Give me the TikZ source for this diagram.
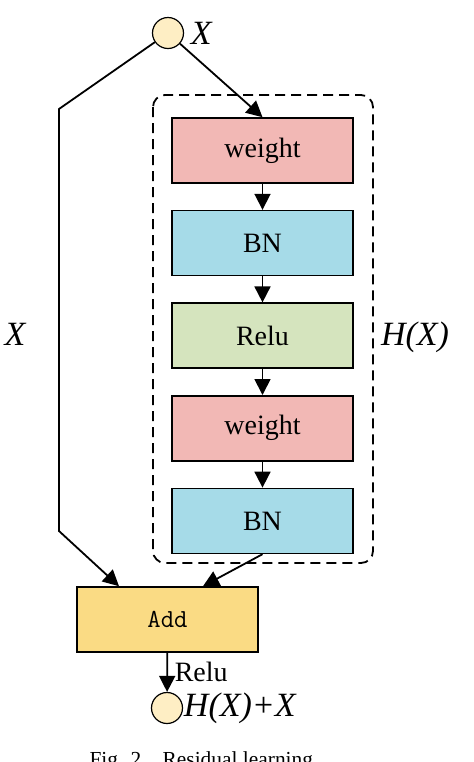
\documentclass[tikz,border=0pt]{standalone}
\usepackage{fontspec}
\setmainfont{Liberation Serif}
\usetikzlibrary{arrows.meta,calc,positioning}
\definecolor{SoftPink}{RGB}{242,184,181}
\definecolor{SoftBlue}{RGB}{166,219,232}
\definecolor{SoftGreen}{RGB}{213,228,190}
\definecolor{SoftGold}{RGB}{250,219,132}
\definecolor{SoftCream}{RGB}{254,238,196}

\begin{document}
\begin{tikzpicture}[x=0.5pt,y=-0.5pt,>={Triangle[length=8pt,width=8pt]},line width=0.9pt,node distance=13pt,
  layer/.style={draw,line width=0.8pt,minimum width=90.5pt,minimum height=32.5pt,inner sep=0pt,font=\fontsize{14}{16}\selectfont},
  port/.style={draw,circle,fill=SoftCream,minimum size=15.5pt,inner sep=0pt,line width=0.6pt},
  lbl/.style={inner sep=0pt,font=\fontsize{17}{20}\selectfont\itshape}]
\useasboundingbox (0,0) rectangle (474,762);
\clip (0,0) rectangle (474,762);
\node[port] (x) at (168,33) {};
\node[lbl,right=3pt of x] (xt) {X};
\node[layer,fill=SoftPink] (w1) at (262.5,150.5) {weight};
\node[layer,fill=SoftBlue,below=of w1] (b1) {BN};
\node[layer,fill=SoftGreen,below=of b1] (r1) {Relu};
\node[layer,fill=SoftPink,below=of r1] (w2) {weight};
\node[layer,fill=SoftBlue,below=of w2] (b2) {BN};
\draw[dash pattern=on 5pt off 3pt,rounded corners=6pt] (153,95) rectangle (373,563);
\node[lbl,anchor=base] (xs) at (15,345) {X};
\node[lbl,anchor=base] (hx) at (415,345) {H(X)};
\node[layer,fill=SoftGold,font=\ttfamily\fontsize{13}{15}\selectfont] (add) at (167.5,619.5) {Add};
\node[port] (y) at (167,708) {};
\node[lbl,right=0pt of y] (yt) {H(X)+X};
\coordinate (sk1) at (59,109);
\coordinate (sk2) at (59,531);
\draw[->] (x)--(w1.north);
\draw[->] (w1)--(b1);\draw[->] (b1)--(r1);\draw[->] (r1)--(w2);\draw[->] (w2)--(b2);
\draw[->] (x)--(sk1)--(sk2)--([xshift=-24.25pt]add.north);
\draw[->] (b2.south)--([xshift=17.75pt]add.north);
\draw[->] (add)--node[right,font=\fontsize{14}{16}\selectfont]{Relu}(y);
\node[anchor=base west,font=\fontsize{10.7}{12}\selectfont] (cap) at (82,766) {Fig. 2\quad Residual learning};
\end{tikzpicture}
\end{document}
